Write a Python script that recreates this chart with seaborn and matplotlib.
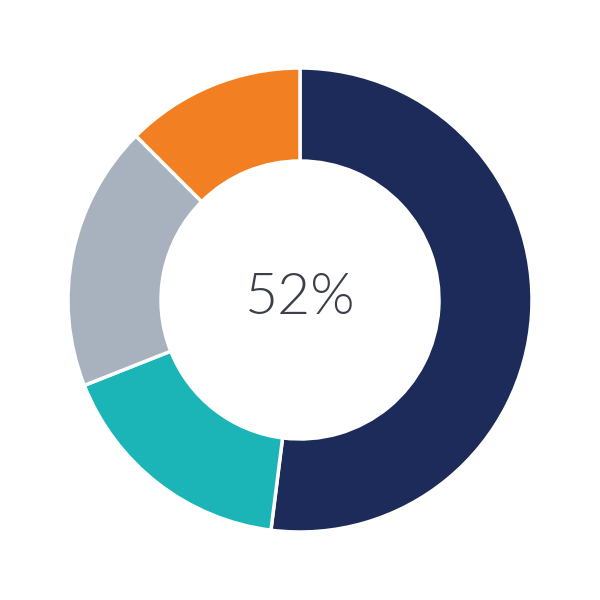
import seaborn as sns
import matplotlib.pyplot as plt

# segment shares, clockwise from 12 o'clock
segments = ["Navy", "Teal", "Gray", "Orange"]
shares = [52, 17, 18.5, 12.5]
colors = ["#1c2b5a", "#1bb5b7", "#a8b2bf", "#f28022"]
center_label = "52%"

sns.set_theme(style="white")
plt.rcParams['font.family'] = ['Lato', 'DejaVu Sans']

fig = plt.figure(figsize=(6, 6), dpi=100)
ax = fig.add_axes([0, 0, 1, 1])

ax.pie(
	shares,
	colors=sns.color_palette(colors),
	radius=232,
	startangle=90,
	counterclock=False,
	wedgeprops=dict(width=93, edgecolor="white", linewidth=2.5),
)
ax.text(0, 2, center_label, ha="center", va="center",
	fontsize=41, fontweight=300, color="#3a3f4a")

ax.set_xlim(-300, 300)
ax.set_ylim(-300, 300)
ax.set_aspect("equal")
ax.axis("off")

plt.savefig("out.png", dpi=100)
